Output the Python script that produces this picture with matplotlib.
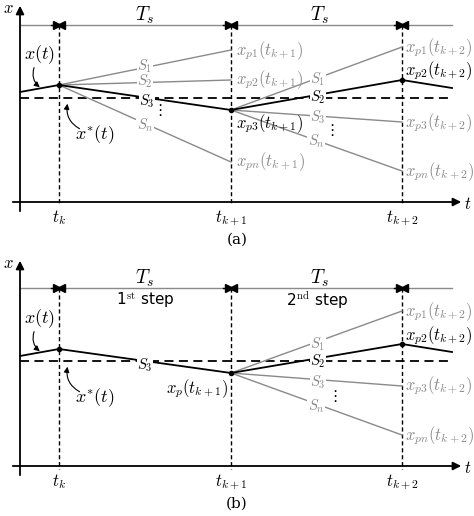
import matplotlib
matplotlib.use('Agg')
import matplotlib.pyplot as plt
from matplotlib.patches import FancyArrowPatch

plt.rcParams['mathtext.fontset'] = 'cm'

# ---- diagram data (pixel coordinates of reference) ----
t_pos = [59, 231, 402]
t_labels = [r'$t_k$', r'$t_{k+1}$', r'$t_{k+2}$']

# panel (a)
a_off = 0
a_xstar = 98
a_state_x = [20, 59, 231, 402, 452]
a_state_y = [92, 85, 110, 80, 88]
a_fan1_end = [50, 80, 162]          # S1, S2, Sn from t_k (gray)
a_fan2_end = [47, 122, 171]         # S1, S3, Sn from t_k+1 (gray)
# panel (b)
b_off = 255
b_xstar = 361
b_state_y = [356, 349, 373, 344, 352]
b_fan2_end = [311, 386, 435]

GRAY = '#8a8a8a'

fig = plt.figure(figsize=(4.74, 5.16), dpi=100)
ax = fig.add_axes([0, 0, 1, 1])
ax.set_xlim(0, 474)
ax.set_ylim(516, 0)
ax.axis('off')


def panel(off, xstar, sy, top_y, axis_y, fan1, fan2, tag, steps):
    # axes
    ax.annotate('', xy=(20, off + 3), xytext=(20, axis_y + 12),
                arrowprops=dict(arrowstyle='-|>', color='k', lw=1.3, mutation_scale=12))
    ax.annotate('', xy=(464, axis_y), xytext=(10, axis_y),
                arrowprops=dict(arrowstyle='-|>', color='k', lw=1.3, mutation_scale=12))
    ax.text(8, off + 8, r'$x$', fontsize=12, ha='center', va='center')
    ax.text(468, axis_y + 2, r'$t$', fontsize=12, ha='center', va='center')
    # top gray line with bowtie markers
    ax.plot([20, 452], [top_y, top_y], color=GRAY, lw=1)
    for tp in t_pos:
        ax.plot([tp - 8, tp], [top_y, top_y], color='k', lw=1)
        ax.plot(tp - 2, top_y, marker='>', color='k', ms=6)
        ax.plot(tp + 2, top_y, marker='<', color='k', ms=6)
        ax.plot([tp, tp], [top_y, axis_y + 3], color='k', lw=1, ls=(0, (3, 2)))
    for tp, lab in zip(t_pos, t_labels):
        ax.text(tp, axis_y + 16, lab, fontsize=12, ha='center', va='center')
    ax.text(145, top_y - 10, r'$T_s$', fontsize=14, ha='center', va='center')
    ax.text(320, top_y - 10, r'$T_s$', fontsize=14, ha='center', va='center')
    if steps:
        ax.text(145, top_y + 12, r'1$^{\mathrm{st}}$ step', fontsize=11, ha='center',
                va='center', family='DejaVu Sans')
        ax.text(317, top_y + 12, r'2$^{\mathrm{nd}}$ step', fontsize=11, ha='center',
                va='center', family='DejaVu Sans')
    # reference
    ax.plot([20, 448], [xstar, xstar], color='k', lw=1.3, ls=(0, (5, 3)))
    # fans
    if fan1 is not None:
        for ye in fan1:
            ax.plot([t_pos[0], t_pos[1]], [sy[1], ye], color=GRAY, lw=1)
    for ye in fan2:
        ax.plot([t_pos[1], t_pos[2]], [sy[2], ye], color=GRAY, lw=1)
    # state
    ax.plot(a_state_x, sy, color='k', lw=1.3)
    ax.plot(a_state_x[1:4], sy[1:4], 'ko', ms=3)
    ax.text(40, sy[0] - 37, r'$x(t)$', fontsize=13, ha='center', va='center')
    ax.add_patch(FancyArrowPatch((35, sy[0] - 27), (42, sy[0] - 3),
                                 connectionstyle='arc3,rad=0.4', arrowstyle='-|>',
                                 mutation_scale=8, lw=0.8, color='k'))
    ax.text(95, xstar + 37, r'$x^{*}(t)$', fontsize=13, ha='center', va='center')
    ax.add_patch(FancyArrowPatch((82, xstar + 32), (68, xstar + 3),
                                 connectionstyle='arc3,rad=-0.4', arrowstyle='-|>',
                                 mutation_scale=8, lw=0.8, color='k'))
    ax.text(237, axis_y + 38, tag, fontsize=11, ha='center', va='center', family='serif')


bg = dict(facecolor='white', edgecolor='none', pad=0.1)
SF = 10.5

# ---- panel (a) ----
panel(a_off, a_xstar, a_state_y, 25, 202, a_fan1_end, a_fan2_end, '(a)', False)
for txt, x, y, c in [(r'$S_1$', 145, 66, GRAY), (r'$S_2$', 145, 81, GRAY),
                     (r'$S_3$', 147, 101, 'k'), (r'$S_n$', 145, 125, GRAY),
                     (r'$S_1$', 318, 79, GRAY), (r'$S_2$', 318, 97, 'k'),
                     (r'$S_3$', 318, 117, GRAY), (r'$S_n$', 316, 141, GRAY)]:
    ax.text(x, y, txt, fontsize=SF, color=c, ha='center', va='center', bbox=bg)
ax.text(160, 110, '⋮', fontsize=11, ha='center', va='center')
ax.text(332, 131, '⋮', fontsize=11, ha='center', va='center')
for txt, x, y, c in [(r'$x_{p1}(t_{k+1})$', 236, 51, GRAY), (r'$x_{p2}(t_{k+1})$', 236, 80, GRAY),
                     (r'$x_{p3}(t_{k+1})$', 236, 124, 'k'), (r'$x_{pn}(t_{k+1})$', 236, 162, GRAY),
                     (r'$x_{p1}(t_{k+2})$', 405, 48, GRAY), (r'$x_{p2}(t_{k+2})$', 405, 71, 'k'),
                     (r'$x_{p3}(t_{k+2})$', 405, 123, GRAY), (r'$x_{pn}(t_{k+2})$', 405, 172, GRAY)]:
    ax.text(x, y, txt, fontsize=12, color=c, ha='left', va='center')

# ---- panel (b) ----
panel(b_off, b_xstar, b_state_y, 288, 466, None, b_fan2_end, '(b)', True)
for txt, x, y, c in [(r'$S_3$', 145, 365, 'k'),
                     (r'$S_1$', 318, 344, GRAY), (r'$S_2$', 318, 361, 'k'),
                     (r'$S_3$', 318, 382, GRAY), (r'$S_n$', 316, 406, GRAY)]:
    ax.text(x, y, txt, fontsize=SF, color=c, ha='center', va='center', bbox=bg)
ax.text(335, 396, '⋮', fontsize=11, ha='center', va='center')
ax.text(228, 389, r'$x_p(t_{k+1})$', fontsize=12, ha='right', va='center')
for txt, x, y, c in [(r'$x_{p1}(t_{k+2})$', 405, 312, GRAY), (r'$x_{p2}(t_{k+2})$', 405, 336, 'k'),
                     (r'$x_{p3}(t_{k+2})$', 405, 386, GRAY), (r'$x_{pn}(t_{k+2})$', 405, 436, GRAY)]:
    ax.text(x, y, txt, fontsize=12, color=c, ha='left', va='center')

fig.savefig('out.png', dpi=100)
